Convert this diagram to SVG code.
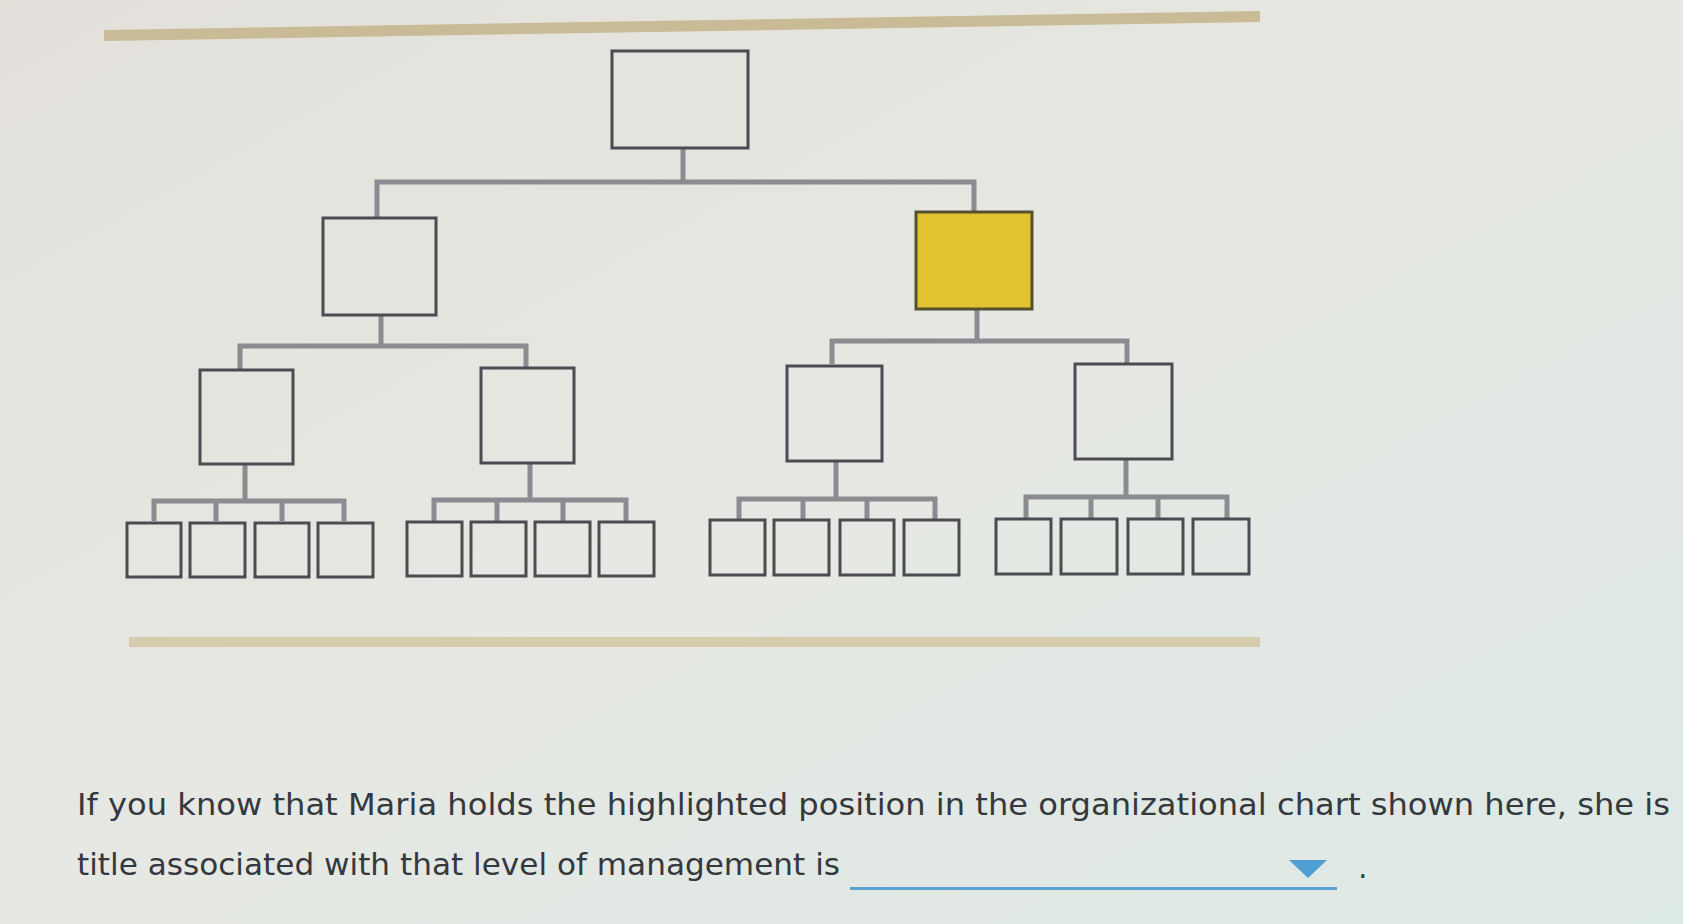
<svg xmlns="http://www.w3.org/2000/svg" width="1683" height="924" viewBox="0 0 1683 924">
<defs>
<linearGradient id="bg" x1="0" y1="0" x2="1" y2="1">
<stop offset="0" stop-color="#e3e0da"/>
<stop offset="0.5" stop-color="#e6e8e3"/>
<stop offset="1" stop-color="#dde9e6"/>
</linearGradient>
<style>
.box{fill:none;stroke:#4b4b52;stroke-width:3}
.hl{fill:#e3c232;stroke:#55502f;stroke-width:3}
.con{fill:none;stroke:#8b8c92;stroke-width:5}
.txt{font-family:"DejaVu Sans",Verdana,sans-serif;font-size:30px;fill:#35383e}
</style>
</defs>
<rect width="1683" height="924" fill="url(#bg)"/>
<polygon points="104,30 1260,11 1260,22 104,41" fill="#c9bb95"/>
<rect x="129" y="637" width="1131" height="10" fill="#d5ccae"/>

<g id="connectors">
<path class="con" d="M683,149V182M377,217V182H974V212"/>
<path class="con" d="M381,315V346M240,369V346H526V368"/>
<path class="con" d="M977,309V341M832,364V341H1127V363"/>
<path class="con" d="M245,464V501M154,521V501H344V521M216,501V521M282,501V521"/>
<path class="con" d="M530,463V500M434,521V500H626V521M497,500V521M563,500V521"/>
<path class="con" d="M836,461V499M739,519V499H935V519M803,499V519M867,499V519"/>
<path class="con" d="M1126,459V497M1026,519V497H1227V519M1091,497V519M1158,497V519"/>
</g>

<g id="n0"><rect class="box" x="612" y="51" width="136" height="97"/></g>
<g id="n1"><rect class="box" x="323" y="218" width="113" height="97"/></g>
<g id="n2"><rect class="hl" x="916" y="212" width="116" height="97"/></g>
<g id="n3"><rect class="box" x="200" y="370" width="93" height="94"/></g>
<g id="n4"><rect class="box" x="481" y="368" width="93" height="95"/></g>
<g id="n5"><rect class="box" x="787" y="366" width="95" height="95"/></g>
<g id="n6"><rect class="box" x="1075" y="364" width="97" height="95"/></g>

<g id="n7"><rect class="box" x="127" y="523" width="54" height="54"/></g>
<g id="n8"><rect class="box" x="190" y="523" width="55" height="54"/></g>
<g id="n9"><rect class="box" x="255" y="523" width="54" height="54"/></g>
<g id="n10"><rect class="box" x="318" y="523" width="55" height="54"/></g>
<g id="n11"><rect class="box" x="407" y="522" width="55" height="54"/></g>
<g id="n12"><rect class="box" x="471" y="522" width="55" height="54"/></g>
<g id="n13"><rect class="box" x="535" y="522" width="55" height="54"/></g>
<g id="n14"><rect class="box" x="599" y="522" width="55" height="54"/></g>
<g id="n15"><rect class="box" x="710" y="520" width="55" height="55"/></g>
<g id="n16"><rect class="box" x="774" y="520" width="55" height="55"/></g>
<g id="n17"><rect class="box" x="840" y="520" width="54" height="55"/></g>
<g id="n18"><rect class="box" x="904" y="520" width="55" height="55"/></g>
<g id="n19"><rect class="box" x="996" y="519" width="55" height="55"/></g>
<g id="n20"><rect class="box" x="1061" y="519" width="56" height="55"/></g>
<g id="n21"><rect class="box" x="1128" y="519" width="55" height="55"/></g>
<g id="n22"><rect class="box" x="1193" y="519" width="56" height="55"/></g>

<text class="txt" x="77" y="815" textLength="1593" lengthAdjust="spacingAndGlyphs">If you know that Maria holds the highlighted position in the organizational chart shown here, she is</text>
<text class="txt" x="77" y="875" textLength="763" lengthAdjust="spacingAndGlyphs">title associated with that level of management is</text>
<rect x="850" y="887" width="487" height="3" fill="#5aa3cf"/>
<polygon points="1289,860 1327,860 1308,878" fill="#4f9fd2"/>
<text class="txt" x="1358" y="878">.</text>
</svg>
